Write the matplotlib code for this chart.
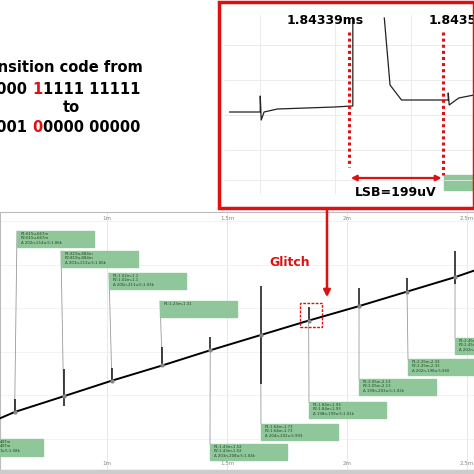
import matplotlib.pyplot as plt
from matplotlib.patches import Rectangle, FancyArrowPatch

# step points of the ramp (time in ms, level in V)
t_steps = [0.615, 0.819, 1.02, 1.23, 1.43, 1.64, 1.84, 2.05, 2.25, 2.45]
v_steps = [0.667, 0.884, 1.1, 1.31, 1.52, 1.73, 1.93, 2.13, 2.33, 2.53]
spike_lo = [0.667, 0.75, 1.08, 1.30, 1.51, 1.05, 1.94, 2.12, 2.31, 2.44]
spike_hi = [0.85, 1.26, 1.27, 1.57, 1.70, 2.41, 2.12, 2.38, 2.52, 2.89]
label_t = ['615u', '819u', '1.02m', '1.23m', '1.43m', '1.64m', '1.84m', '2.05m', '2.25m', '2.45m']
label_v = ['667m', '884m', '1.1', '1.31', '1.52', '1.73', '1.93', '2.13', '2.33', '2.53']
label_d = ['202n,214u:5:1.06k', '201n,213u:5:1.06k', '205n,211u:5:1.03k', '', '203n,208u:5:1.04k',
           '204n,202u:5:993', '198n,199u:5:1.01k', '199n,203u:5:1.02k', '202n,198u:5:960', '202n,201u:5:1.0k']
major_ticks = [1.0, 1.5, 2.0, 2.5]
tick_names = ['1m', '1.5m', '2m', '2.5m']

# zoomed-in view of the glitch (arbitrary time units)
z1_t = [0, 32, 32, 33, 36, 50, 80, 110, 128, 129, 129]
z1_v = [107, 107, 91, 115, 107, 104, 103, 102, 101, 101, 13]
z2_t = [162, 168, 180, 229, 229, 230, 240, 256]
z2_v = [13, 80, 95, 95, 88, 100, 93, 90]

XL, XR = 0.554, 2.529
YB, YT = -0.134, 3.43
GREEN = '#8fc79a'

fig = plt.figure(figsize=(4.74, 4.74), dpi=100)
ax = fig.add_axes([0, 4 / 474, 1, 258 / 474])
ax.set_xlim(XL, XR)
ax.set_ylim(YB, YT)
ax.set_xticks([])
ax.set_yticks([])
for s in ax.spines.values():
    s.set_color('#bbbbbb')
for t in major_ticks:
    ax.axvline(t, color='#e4e4e4', lw=0.6, zorder=0)
for v in [0.3, 0.9, 1.5, 2.1, 2.7, 3.3]:
    ax.axhline(v, color='#eeeeee', lw=0.5, zorder=0)
for t, n in zip(major_ticks, tick_names):
    ax.text(t, YT - 0.05, n, fontsize=4, color='#888888', ha='center', va='top')
    ax.text(t, YB + 0.05, n, fontsize=4, color='#888888', ha='center', va='bottom')


def py(ypx):
    return YB + (470 - ypx) / 258 * (YT - YB)


def px(xpx):
    return XL + xpx / 474 * (XR - XL)


ax.plot([XL] + t_steps + [XR], [0.58] + v_steps + [2.62], color='black', lw=1.4, zorder=3)
ax.vlines(t_steps, spike_lo, spike_hi, color='#222222', lw=1.2, zorder=3)
ax.plot(t_steps, v_steps, 'o', ms=2, color='#888888', zorder=4)

# label boxes: (left px, top px)
boxes = [(17, 231), (61, 251), (109, 273), (160, 301), (210, 444), (261, 424),
         (309, 402), (359, 379), (408, 359), (455, 338)]
for i, (bx, by) in enumerate(boxes):
    ax.plot([t_steps[i], px(bx)], [v_steps[i], py(by)], color='#999999', lw=0.6, zorder=2)
    ax.add_patch(Rectangle((px(bx), py(by + 16)), px(bx + 77) - px(bx), py(by) - py(by + 16),
                           color=GREEN, zorder=5, clip_on=True))
    lines = 'P1:%s,%s\nP2:%s,%s' % (label_t[i], label_v[i], label_t[i], label_v[i])
    if label_d[i]:
        lines += '\n\u0394 ' + label_d[i]
    else:
        lines = 'P1:%s,%s' % (label_t[i], label_v[i])
    ax.text(px(bx + 4), py(by + 1), lines, fontsize=2.8, va='top', color='#224422',
            linespacing=1.1, zorder=6, clip_on=True)
ax.add_patch(Rectangle((px(-10), py(456)), px(43) - px(-10), py(439) - py(456), color=GREEN, zorder=5))
ax.text(px(0), py(440), '447m\n447m\n7u:5:1.08k', fontsize=2.8, va='top', color='#224422',
        linespacing=1.1, zorder=6)

ax.add_patch(Rectangle((px(300), py(327)), px(322) - px(300), py(303) - py(327),
                       fill=False, ec='#dd1111', ls=(0, (2, 1)), lw=1.0, zorder=7))
ax.text(px(290), py(263), 'Glitch', color='#dd1111', fontsize=9, fontweight='bold',
        ha='center', va='center')
ax.add_patch(FancyArrowPatch((px(327), py(206)), (px(327), py(300)), arrowstyle='-|>',
                             mutation_scale=10, color='#dd1111', lw=1.8, clip_on=False, zorder=8))

# inset of the glitch
frame = Rectangle((219 / 474, 1 - 208 / 474), 255 / 474, 206 / 474, transform=fig.transFigure,
                  fill=False, ec='#dd1111', lw=2.5)
fig.patches.append(frame)
ix = fig.add_axes([224 / 474, 1 - 203 / 474, 250 / 474, 198 / 474])
ix.set_xlim(-6, 256)
ix.set_ylim(198, 0)
ix.axis('off')
for g in [32, 110, 190]:
    ix.axvline(g, color='#e8e8e8', lw=0.6, ymin=0.05, ymax=0.95)
for g in [40, 75, 110, 145, 175]:
    ix.axhline(g, color='#e8e8e8', lw=0.6)
ix.plot(z1_t, z1_v, color='#222222', lw=0.9)
ix.plot(z2_t, z2_v, color='#222222', lw=0.9)
ix.vlines([125, 224], 27, [162, 170], color='#dd1111', lw=2.2, linestyles=(0, (1, 1)))
ix.annotate('', xy=(124, 173), xytext=(225, 173),
            arrowprops=dict(arrowstyle='<|-|>', color='#dd1111', lw=1.6, mutation_scale=8))
ix.text(100, 16, '1.84339ms', fontsize=9, fontweight='bold', ha='center', va='center')
ix.text(208, 16, '1.8435', fontsize=9, fontweight='bold', ha='left', va='center')
ix.text(174, 187, 'LSB=199uV', fontsize=9, fontweight='bold', ha='center', va='center')
ix.add_patch(Rectangle((225, 170), 40, 15, color=GREEN, clip_on=True))

# transition code text
FS = 10.5
fig.text(143 / 474, 1 - 68 / 474, 'Transition code from', fontsize=FS, fontweight='bold',
         ha='right', va='center')
fig.text(71 / 474, 1 - 108 / 474, 'to', fontsize=FS, fontweight='bold', ha='center', va='center')


def colored_line(y, parts, right):
    r = fig.canvas.get_renderer()
    x = right
    for s, c in reversed(parts):
        t = fig.text(x, y, s, fontsize=FS, fontweight='bold', color=c, ha='right', va='center')
        w = t.get_window_extent(r).width / fig.bbox.width
        x -= w


colored_line(1 - 90 / 474, [('0000 ', 'black'), ('1', '#dd1111'), ('1111 11111', 'black')], 140 / 474)
colored_line(1 - 128 / 474, [('0001 ', 'black'), ('0', '#dd1111'), ('0000 00000', 'black')], 140 / 474)

fig.patches.append(Rectangle((0, 0), 1, 4 / 474, transform=fig.transFigure, color='#cccccc'))
fig.savefig('out.png', dpi=100)
